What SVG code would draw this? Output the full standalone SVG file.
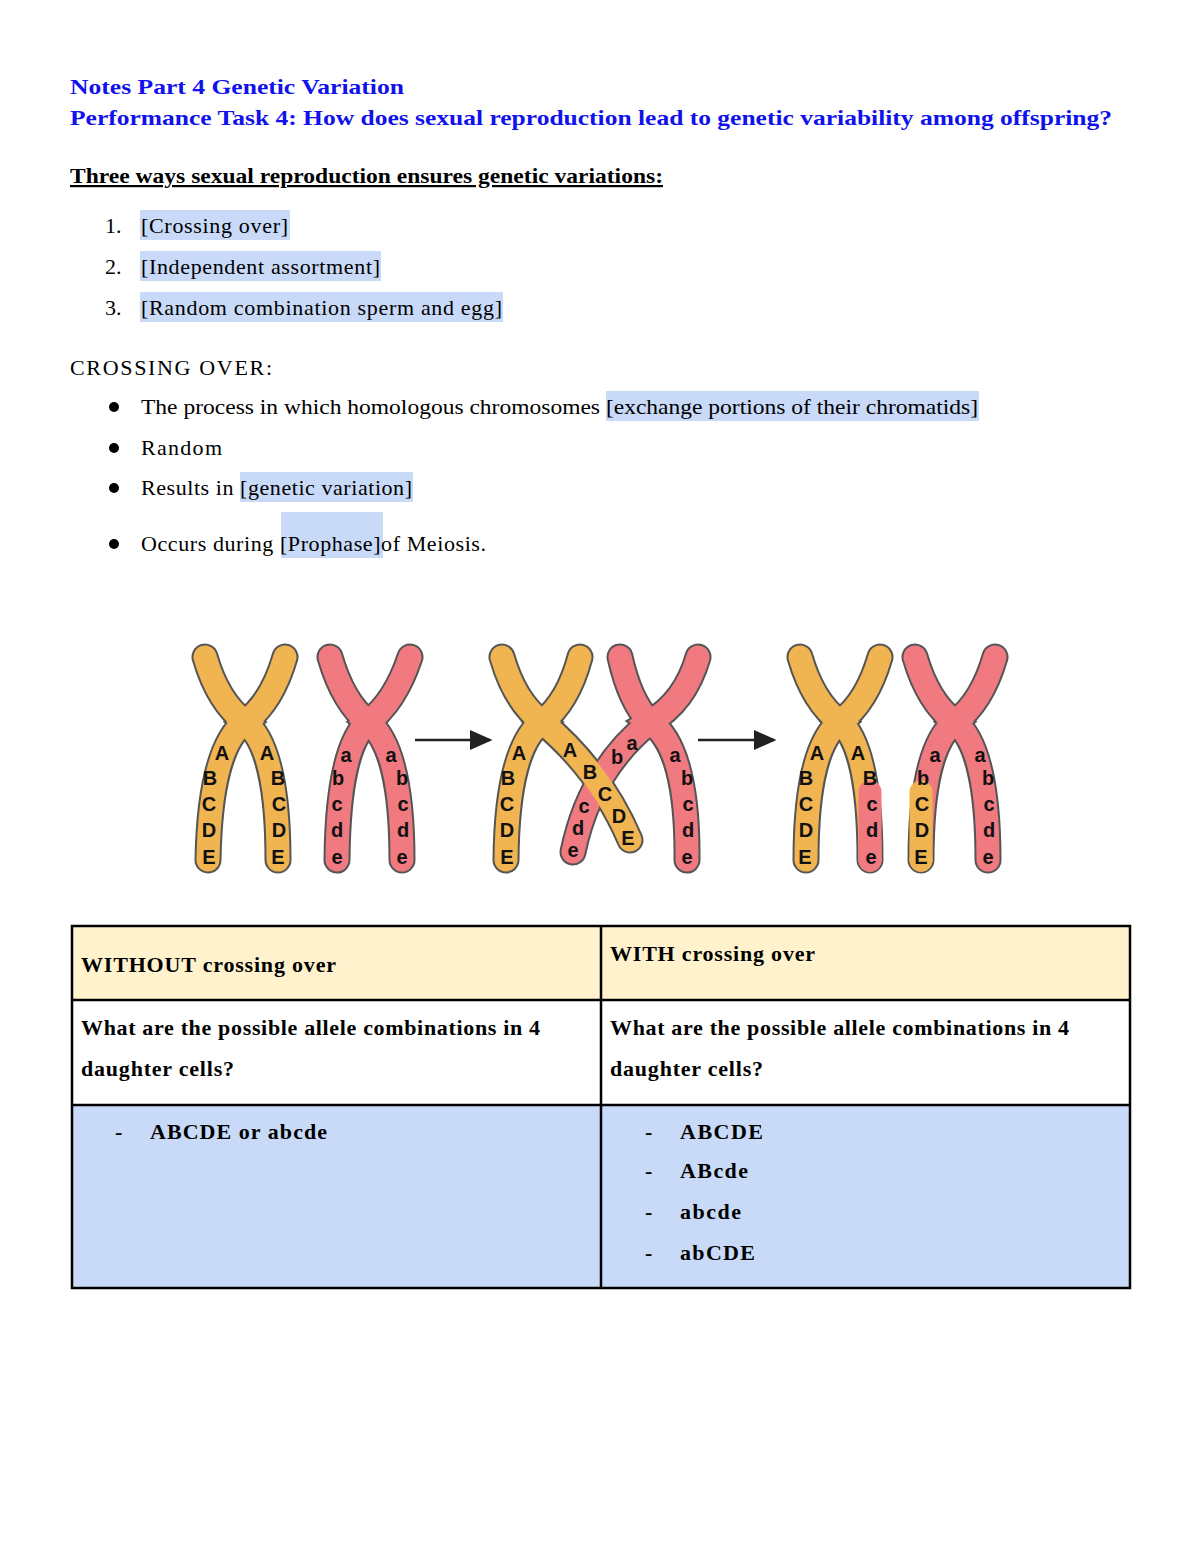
<svg xmlns="http://www.w3.org/2000/svg" width="1200" height="1553" viewBox="0 0 1200 1553">
<style>
text{font-family:"Liberation Serif",serif;font-size:22px;fill:#000}
.h{fill:#1111ee;font-weight:bold}
.b{font-weight:bold}
.hl{fill:#c9daf8}
.o{fill:none;stroke:#555;stroke-width:27;stroke-linecap:round}
.y{fill:none;stroke:#f0b450;stroke-width:23;stroke-linecap:round}
.p{fill:none;stroke:#f07a80;stroke-width:23;stroke-linecap:round}
.l{font-family:"Liberation Sans",sans-serif;font-size:20px;font-weight:bold;text-anchor:middle;fill:#111}
.ar{stroke:#222;stroke-width:2.5;fill:none}
</style>
<defs><marker id="m" markerWidth="10" markerHeight="10" refX="8" refY="5" orient="auto"><path d="M0,1 L9,5 L0,9z" fill="#222"/></marker></defs>
<rect width="1200" height="1553" fill="#fff"/>
<text class="h" x="70" y="94" textLength="334" lengthAdjust="spacingAndGlyphs">Notes Part 4 Genetic Variation</text>
<text class="h" x="70" y="125" textLength="1042" lengthAdjust="spacingAndGlyphs">Performance Task 4: How does sexual reproduction lead to genetic variability among offspring?</text>
<text class="b" x="70" y="183" text-decoration="underline" textLength="593" lengthAdjust="spacingAndGlyphs">Three ways sexual reproduction ensures genetic variations:</text>
<rect class="hl" x="140" y="210" width="150" height="30"/>
<rect class="hl" x="140" y="251" width="241" height="30"/>
<rect class="hl" x="140" y="292" width="363" height="30"/>
<text x="105" y="233">1.</text><text x="141" y="233" textLength="147">[Crossing over]</text>
<text x="105" y="274">2.</text><text x="141" y="274" textLength="239">[Independent assortment]</text>
<text x="105" y="315">3.</text><text x="141" y="315" textLength="361">[Random combination sperm and egg]</text>
<text x="70" y="375" textLength="202">CROSSING OVER:</text>
<rect class="hl" x="606" y="391" width="373" height="30"/>
<rect class="hl" x="240" y="472" width="173" height="30"/>
<rect class="hl" x="281" y="512" width="102" height="46"/>
<g fill="#000"><circle cx="114" cy="407" r="5"/><circle cx="114" cy="448" r="5"/><circle cx="114" cy="488" r="5"/><circle cx="114" cy="544" r="5"/></g>
<text x="141" y="414" textLength="837" lengthAdjust="spacingAndGlyphs">The process in which homologous chromosomes [exchange portions of their chromatids]</text>
<text x="141" y="455" textLength="81">Random</text>
<text x="141" y="495" textLength="271">Results in [genetic variation]</text>
<text x="141" y="551" textLength="345">Occurs during [Prophase]of Meiosis.</text>

<g id="chromosomes">
<path class="o" d="M205,657 Q218,702 245,722 Q210,748 208,860"/><path class="o" d="M285,657 Q272,702 245,722 Q278,748 278,860"/>
<path class="y" d="M205,657 Q218,702 245,722 Q210,748 208,860"/><path class="y" d="M285,657 Q272,702 245,722 Q278,748 278,860"/>
<path class="o" d="M330,657 Q343,702 368,722 Q338,748 337,860"/><path class="o" d="M410,657 Q395,702 368,722 Q402,748 402,860"/>
<path class="p" d="M330,657 Q343,702 368,722 Q338,748 337,860"/><path class="p" d="M410,657 Q395,702 368,722 Q402,748 402,860"/>
<path class="o" d="M502,657 Q515,702 542,722 Q507,748 506,860"/><path class="o" d="M580,657 Q568,702 542,722 Q600,770 630,840"/>
<path class="o" d="M620,657 Q630,702 650,722 Q590,770 573,852"/><path class="o" d="M698,657 Q685,702 650,722 Q688,748 687,860"/>
<path class="p" d="M620,657 Q630,702 650,722 Q590,770 573,852"/>
<path class="y" d="M502,657 Q515,702 542,722 Q507,748 506,860"/><path class="y" d="M580,657 Q568,702 542,722 Q600,770 630,840"/>
<path class="p" d="M698,657 Q685,702 650,722 Q688,748 687,860"/>
<path class="o" d="M800,657 Q813,702 840,722 Q806,748 806,860"/><path class="o" d="M880,657 Q867,702 840,722 Q870,748 870,860"/>
<path class="y" d="M800,657 Q813,702 840,722 Q806,748 806,860"/><path class="y" d="M880,657 Q867,702 840,722 Q870,748 870,860"/>
<path class="p" d="M870,792 L870,860" stroke-linecap="butt"/><circle cx="870" cy="860" r="11.5" fill="#f07a80"/>
<path class="o" d="M915,657 Q928,702 955,722 Q921,748 921,860"/><path class="o" d="M995,657 Q982,702 955,722 Q988,748 988,860"/>
<path class="p" d="M915,657 Q928,702 955,722 Q921,748 921,860"/><path class="p" d="M995,657 Q982,702 955,722 Q988,748 988,860"/>
<path class="y" d="M921,792 L921,860" stroke-linecap="butt"/><circle cx="921" cy="860" r="11.5" fill="#f0b450"/>
<g>
<text class="l" x="222" y="760">A</text><text class="l" x="210" y="785">B</text><text class="l" x="209" y="811">C</text><text class="l" x="209" y="837">D</text><text class="l" x="209" y="864">E</text>
<text class="l" x="267" y="760">A</text><text class="l" x="278" y="785">B</text><text class="l" x="279" y="811">C</text><text class="l" x="279" y="837">D</text><text class="l" x="278" y="864">E</text>
<text class="l" x="346" y="762">a</text><text class="l" x="338" y="785">b</text><text class="l" x="337" y="811">c</text><text class="l" x="337" y="837">d</text><text class="l" x="337" y="864">e</text>
<text class="l" x="391" y="762">a</text><text class="l" x="402" y="785">b</text><text class="l" x="403" y="811">c</text><text class="l" x="403" y="837">d</text><text class="l" x="402" y="864">e</text>
<text class="l" x="519" y="760">A</text><text class="l" x="508" y="785">B</text><text class="l" x="507" y="811">C</text><text class="l" x="507" y="837">D</text><text class="l" x="507" y="864">E</text>
<text class="l" x="570" y="757">A</text><text class="l" x="590" y="779">B</text><text class="l" x="605" y="801">C</text><text class="l" x="619" y="823">D</text><text class="l" x="628" y="845">E</text>
<text class="l" x="632" y="750">a</text><text class="l" x="617" y="764">b</text><text class="l" x="584" y="813">c</text><text class="l" x="578" y="835">d</text><text class="l" x="573" y="857">e</text>
<text class="l" x="675" y="762">a</text><text class="l" x="687" y="785">b</text><text class="l" x="688" y="811">c</text><text class="l" x="688" y="837">d</text><text class="l" x="687" y="864">e</text>
<text class="l" x="817" y="760">A</text><text class="l" x="806" y="785">B</text><text class="l" x="806" y="811">C</text><text class="l" x="806" y="837">D</text><text class="l" x="805" y="864">E</text>
<text class="l" x="858" y="760">A</text><text class="l" x="870" y="785">B</text><text class="l" x="872" y="811">c</text><text class="l" x="872" y="837">d</text><text class="l" x="871" y="864">e</text>
<text class="l" x="935" y="762">a</text><text class="l" x="923" y="785">b</text><text class="l" x="922" y="811">C</text><text class="l" x="922" y="837">D</text><text class="l" x="921" y="864">E</text>
<text class="l" x="980" y="762">a</text><text class="l" x="988" y="785">b</text><text class="l" x="989" y="811">c</text><text class="l" x="989" y="837">d</text><text class="l" x="988" y="864">e</text>
</g>
</g>
<g id="connectors">
<line class="ar" x1="415" y1="740" x2="490" y2="740" marker-end="url(#m)"/>
<line class="ar" x1="698" y1="740" x2="774" y2="740" marker-end="url(#m)"/>
</g>

<g id="table">
<rect x="72" y="926" width="1058" height="74" fill="#fff2cc"/>
<rect x="72" y="1105" width="1058" height="183" fill="#c9daf8"/>
<g stroke="#000" stroke-width="2.5" fill="none">
<rect x="72" y="926" width="1058" height="362"/>
<line x1="72" y1="1000" x2="1130" y2="1000"/><line x1="72" y1="1105" x2="1130" y2="1105"/>
<line x1="601" y1="926" x2="601" y2="1288"/>
</g>
<text class="b" x="81" y="972" textLength="255">WITHOUT crossing over</text>
<text class="b" x="610" y="961" textLength="205">WITH crossing over</text>
<text class="b" x="81" y="1035" textLength="459">What are the possible allele combinations in 4</text>
<text class="b" x="81" y="1076" textLength="153">daughter cells?</text>
<text class="b" x="610" y="1035" textLength="459">What are the possible allele combinations in 4</text>
<text class="b" x="610" y="1076" textLength="153">daughter cells?</text>
<text class="b" x="115" y="1139">-</text><text class="b" x="150" y="1139" textLength="177">ABCDE or abcde</text>
<text class="b" x="645" y="1139">-</text><text class="b" x="680" y="1139" textLength="83">ABCDE</text>
<text class="b" x="645" y="1178">-</text><text class="b" x="680" y="1178" textLength="68">ABcde</text>
<text class="b" x="645" y="1219">-</text><text class="b" x="680" y="1219" textLength="61">abcde</text>
<text class="b" x="645" y="1260">-</text><text class="b" x="680" y="1260" textLength="75">abCDE</text>
</g>
</svg>
